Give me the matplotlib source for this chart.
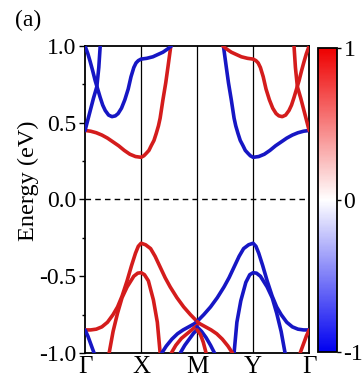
import numpy as np
import matplotlib
matplotlib.use("Agg")
import matplotlib.pyplot as plt
from matplotlib.colors import LinearSegmentedColormap, Normalize
from matplotlib.cm import ScalarMappable

plt.rcParams['font.family'] = ['Liberation Serif', 'DejaVu Serif']
plt.rcParams['axes.unicode_minus'] = False

# high-symmetry path
kpath_pos = [0, 1, 2, 3, 4]
kpath_labels = ['Γ', 'X', 'M', 'Y', 'Γ']

# conduction bands, Γ-X-M half
cb1_k = [0, 0.1, 0.2, 0.3, 0.4, 0.5, 0.6, 0.7, 0.8, 0.9, 1.0, 1.05, 1.09, 1.14, 1.18, 1.23, 1.27, 1.31, 1.34, 1.39, 1.44, 1.48, 1.53]
cb1_e = [0.45, 0.445, 0.435, 0.42, 0.40, 0.375, 0.35, 0.32, 0.295, 0.28, 0.275, 0.285, 0.30, 0.32, 0.35, 0.385, 0.43, 0.48, 0.53, 0.65, 0.76, 0.865, 1.0]
cb2_k = [0, 0.05, 0.10, 0.15, 0.21, 0.245, 0.27]
cb2_e = [0.45, 0.52, 0.59, 0.66, 0.735, 0.86, 1.0]
cb3_k = [0, 0.05, 0.09, 0.135, 0.18, 0.225, 0.27, 0.315, 0.36, 0.42, 0.48, 0.54, 0.59, 0.65, 0.71, 0.77, 0.82, 0.87, 0.91, 0.95, 1.0, 1.1, 1.21, 1.3, 1.39, 1.47, 1.54]
cb3_e = [1.0, 0.95, 0.90, 0.84, 0.775, 0.72, 0.665, 0.615, 0.58, 0.55, 0.54, 0.545, 0.56, 0.595, 0.65, 0.72, 0.80, 0.86, 0.89, 0.905, 0.915, 0.92, 0.93, 0.945, 0.96, 0.98, 1.0]

# conduction bands, M-Y-Γ half
cb4_k = [2.47, 2.52, 2.56, 2.61, 2.66, 2.69, 2.73, 2.77, 2.82, 2.86, 2.91, 2.95, 3.0, 3.1, 3.2, 3.3, 3.4, 3.5, 3.6, 3.7, 3.8, 3.9, 4.0]
cb4_e = [1.0, 0.865, 0.76, 0.65, 0.53, 0.48, 0.43, 0.385, 0.35, 0.32, 0.30, 0.285, 0.275, 0.28, 0.295, 0.32, 0.35, 0.375, 0.40, 0.42, 0.435, 0.445, 0.45]
cb5_k = [3.73, 3.755, 3.79, 3.85, 3.90, 3.95, 4.0]
cb5_e = [1.0, 0.86, 0.735, 0.66, 0.59, 0.52, 0.45]
cb6_k = [2.46, 2.53, 2.61, 2.7, 2.79, 2.9, 3.0, 3.05, 3.09, 3.13, 3.18, 3.23, 3.29, 3.35, 3.41, 3.46, 3.52, 3.58, 3.64, 3.685, 3.73, 3.775, 3.82, 3.865, 3.91, 3.95, 4.0]
cb6_e = [1.0, 0.98, 0.96, 0.945, 0.93, 0.92, 0.915, 0.905, 0.89, 0.86, 0.80, 0.72, 0.65, 0.595, 0.56, 0.545, 0.54, 0.55, 0.58, 0.615, 0.665, 0.72, 0.775, 0.84, 0.90, 0.95, 1.0]

# valence bands
vb1_k = [0, 0.1, 0.2, 0.3, 0.4, 0.5, 0.58, 0.66, 0.75, 0.83, 0.9, 0.95, 1.0, 1.08, 1.17, 1.25, 1.34, 1.43, 1.52, 1.64, 1.76, 1.88, 2.0]
vb1_e = [-0.85, -0.85, -0.845, -0.83, -0.80, -0.75, -0.70, -0.63, -0.53, -0.43, -0.35, -0.305, -0.285, -0.295, -0.32, -0.37, -0.44, -0.51, -0.57, -0.64, -0.70, -0.75, -0.795]
vb2_k = [0.43, 0.50, 0.58, 0.66, 0.75, 0.87, 0.94, 1.0, 1.06, 1.13, 1.22, 1.29, 1.34]
vb2_e = [-1.0, -0.86, -0.74, -0.64, -0.57, -0.50, -0.48, -0.477, -0.49, -0.53, -0.655, -0.80, -1.0]
vb3_k = [2.0, 2.12, 2.24, 2.36, 2.48, 2.57, 2.66, 2.75, 2.83, 2.92, 3.0, 3.05, 3.1, 3.17, 3.25, 3.34, 3.42, 3.5, 3.6, 3.7, 3.8, 3.9, 4.0]
vb3_e = [-0.795, -0.75, -0.70, -0.64, -0.57, -0.51, -0.44, -0.37, -0.32, -0.295, -0.285, -0.305, -0.35, -0.43, -0.53, -0.63, -0.70, -0.75, -0.80, -0.83, -0.845, -0.85, -0.85]
vb4_k = [2.66, 2.71, 2.78, 2.87, 2.94, 3.0, 3.06, 3.13, 3.25, 3.34, 3.42, 3.50, 3.57]
vb4_e = [-1.0, -0.80, -0.66, -0.54, -0.49, -0.477, -0.48, -0.50, -0.57, -0.64, -0.74, -0.86, -1.0]
vb5_k = [0, 0.05, 0.10, 0.16]
vb5_e = [-0.85, -0.89, -0.94, -1.0]
vb6_k = [3.84, 3.90, 3.95, 4.0]
vb6_e = [-1.0, -0.94, -0.89, -0.85]

# small bands near M
mb1_k = [1.37, 1.45, 1.55, 1.65, 1.75, 1.85, 1.95, 2.0]
mb1_e = [-1.0, -0.955, -0.91, -0.875, -0.85, -0.83, -0.81, -0.795]
mb2_k = [1.54, 1.62, 1.72, 1.82, 1.92, 2.0]
mb2_e = [-1.0, -0.95, -0.905, -0.875, -0.845, -0.82]
mb3_k = [1.70, 1.78, 1.86, 1.94, 2.0]
mb3_e = [-1.0, -0.95, -0.91, -0.87, -0.85]
mb4_k = [2.0, 2.05, 2.15, 2.25, 2.35, 2.45, 2.55, 2.63]
mb4_e = [-0.795, -0.81, -0.83, -0.85, -0.875, -0.91, -0.955, -1.0]
mb5_k = [2.0, 2.08, 2.16, 2.24, 2.31]
mb5_e = [-0.83, -0.86, -0.90, -0.95, -1.0]
mb6_k = [2.0, 2.06, 2.11, 2.16]
mb6_e = [-0.85, -0.88, -0.93, -1.0]

# spin expectation <S> of each band (+1 red, -1 blue)
bands = [
    (cb1_k, cb1_e, 1), (cb2_k, cb2_e, -1), (cb3_k, cb3_e, -1),
    (cb4_k, cb4_e, -1), (cb5_k, cb5_e, 1), (cb6_k, cb6_e, 1),
    (vb1_k, vb1_e, 1), (vb2_k, vb2_e, 1), (vb3_k, vb3_e, -1),
    (vb4_k, vb4_e, -1), (vb5_k, vb5_e, -1), (vb6_k, vb6_e, 1),
    (mb1_k, mb1_e, -1), (mb2_k, mb2_e, 1), (mb3_k, mb3_e, -1),
    (mb4_k, mb4_e, 1), (mb5_k, mb5_e, -1), (mb6_k, mb6_e, 1),
]

line_color = {1: '#d41c1c', -1: '#1616c4'}
cmap = LinearSegmentedColormap.from_list('spin', ['#0000f0', '#ffffff', '#ee0000'])

fig = plt.figure(figsize=(3.62, 3.87), dpi=100)
ax = fig.add_axes([0.235, 0.088, 0.619, 0.793])
cax = fig.add_axes([0.878, 0.0904, 0.052, 0.786])

for kk, ee, s in bands:
    ax.plot(kk, ee, color=line_color[s], lw=2.6, solid_capstyle='round',
            solid_joinstyle='round', zorder=3)

for x in kpath_pos[1:-1]:
    ax.axvline(x, color='black', lw=0.9, zorder=1)
ax.axhline(0, color='black', lw=1.0, ls=(0, (4, 3)), zorder=1)

ax.set_xlim(0, 4)
ax.set_ylim(-1.0, 1.0)
ax.set_xticks(kpath_pos)
ax.set_xticklabels(kpath_labels, fontsize=18)
ax.tick_params(axis='x', length=0, pad=2)
ax.set_yticks([-1.0, -0.5, 0.0, 0.5, 1.0])
ax.set_yticklabels(['-1.0', '-0.5', '0.0', '0.5', '1.0'], fontsize=17)
ax.set_yticks([-0.75, -0.25, 0.25, 0.75], minor=True)
ax.tick_params(axis='y', which='major', direction='out', length=4, width=1.0, pad=2)
ax.tick_params(axis='y', which='minor', direction='out', length=2.5, width=1.0)
for sp in ax.spines.values():
    sp.set_linewidth(1.3)
ax.set_ylabel('Energy (eV)', fontsize=17.5)
ax.yaxis.set_label_coords(-0.205, 0.56)

sm = ScalarMappable(norm=Normalize(-1, 1), cmap=cmap)
cb = fig.colorbar(sm, cax=cax, ticks=[-1, 0, 1])
cb.ax.set_yticklabels(['-1', '0', '1'], fontsize=17)
cb.ax.tick_params(length=3, width=1.0, pad=2)
cb.outline.set_linewidth(1.3)

fig.text(0.041, 0.975, '(a)', fontsize=17, va='top', ha='left')

fig.savefig('out.png', dpi=100)
